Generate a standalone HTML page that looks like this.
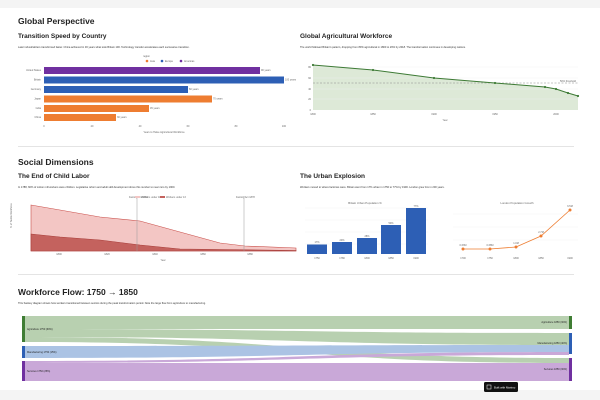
<!DOCTYPE html><html><head><meta charset="utf-8"><style>
body{margin:0;width:600px;height:400px;background:#fff;font-family:"Liberation Sans",sans-serif;overflow:hidden;position:relative;color:#222}
.t{position:absolute;white-space:nowrap}
h1,h2{margin:0;position:absolute;white-space:nowrap;font-weight:bold}
h1{font-size:8.5px}h2{font-size:6.5px}
.d{position:absolute;font-size:2.6px;color:#333;white-space:nowrap}
svg{position:absolute;left:0;top:0}
</style></head><body>
<div style="position:absolute;left:0;top:0;width:600px;height:8px;background:#f4f4f4"></div>
<div style="position:absolute;left:0;top:390px;width:600px;height:10px;background:#f4f4f4"></div>
<h1 style="left:18px;top:16px">Global Perspective</h1>
<h2 style="left:18px;top:33px">Transition Speed by Country</h2>
<div class="d" style="left:18px;top:46px">Later industrializers transformed faster. China achieved in 30 years what took Britain 100. Technology transfer accelerates each successive transition.</div>
<h2 style="left:300px;top:33px">Global Agricultural Workforce</h2>
<div class="d" style="left:300px;top:46px">The world followed Britain's pattern, dropping from 80% agricultural in 1800 to 26% by 2018. The transformation continues in developing nations.</div>
<div style="position:absolute;left:18px;top:146px;width:556px;height:1px;background:#e4e4e4"></div>
<h1 style="left:18px;top:157px">Social Dimensions</h1>
<h2 style="left:18px;top:173px">The End of Child Labor</h2>
<div class="d" style="left:18px;top:186px">In 1788, 60% of cotton mill workers were children. Legislative reform and adult skill development drove this number to near zero by 1900.</div>
<h2 style="left:300px;top:173px">The Urban Explosion</h2>
<div class="d" style="left:300px;top:186px">Workers moved to where factories were. Britain went from 17% urban in 1750 to 77% by 1900. London grew 11x in 200 years.</div>
<div style="position:absolute;left:18px;top:274px;width:556px;height:1px;background:#e4e4e4"></div>
<h1 style="left:18px;top:287px">Workforce Flow: 1750 → 1850</h1>
<div class="d" style="left:18px;top:302px">This Sankey diagram shows how workers transitioned between sectors during the peak transformation period. Note the large flow from agriculture to manufacturing.</div>
<svg width="600" height="400" font-family="Liberation Sans" font-size="2.5" fill="#666">
<!-- bar chart -->
<g>
<circle cx="147" cy="61" r="1.3" fill="#ee7d31"/><text x="150" y="62">Asia</text>
<circle cx="162" cy="61" r="1.3" fill="#2d5fb5"/><text x="165" y="62">Europe</text>
<circle cx="181" cy="61" r="1.3" fill="#7030a0"/><text x="184" y="62">Americas</text>
<text x="143" y="57">region</text>
<rect x="44" y="67" width="216" height="7" fill="#7030a0"/>
<rect x="44" y="76.5" width="240" height="7" fill="#2d5fb5"/>
<rect x="44" y="86" width="144" height="7" fill="#2d5fb5"/>
<rect x="44" y="95.5" width="168" height="7" fill="#ee7d31"/>
<rect x="44" y="105" width="105" height="7" fill="#ee7d31"/>
<rect x="44" y="114" width="72" height="7" fill="#ee7d31"/>
<g text-anchor="end"><text x="41" y="71">United States</text><text x="41" y="80.5">Britain</text><text x="41" y="90">Germany</text><text x="41" y="99.5">Japan</text><text x="41" y="109">India</text><text x="41" y="118">China</text></g>
<text x="261" y="71">90 years</text><text x="285" y="80.5">100 years</text><text x="189" y="90">60 years</text><text x="213" y="99.5">70 years</text><text x="150" y="109">45 years</text><text x="117" y="118">30 years</text>
<g text-anchor="middle"><text x="44" y="127">0</text><text x="92" y="127">20</text><text x="140" y="127">40</text><text x="188" y="127">60</text><text x="236" y="127">80</text><text x="284" y="127">100</text><text x="164" y="133">Years to Halve Agricultural Workforce</text></g>
</g>
<!-- ag workforce -->
<g>
<path d="M313,65 L373,70 L434,78 L495,83 L545,87 L556,89 L568,93 L578,96 L578,110 L313,110Z" fill="#dde9d7"/>
<g stroke="#eee" stroke-width="0.4"><line x1="313" y1="67" x2="578" y2="67"/><line x1="313" y1="78" x2="578" y2="78"/><line x1="313" y1="89" x2="578" y2="89"/><line x1="313" y1="99" x2="578" y2="99"/></g>
<line x1="313" y1="83" x2="578" y2="83" stroke="#888" stroke-width="0.5" stroke-dasharray="2,1.5"/>
<polyline points="313,65 373,70 434,78 495,83 545,87 556,89 568,93 578,96" fill="none" stroke="#3d7a35" stroke-width="1"/>
<g fill="#3d7a35"><circle cx="313" cy="65" r="1.1"/><circle cx="373" cy="70" r="1.1"/><circle cx="434" cy="78" r="1.1"/><circle cx="495" cy="83" r="1.1"/><circle cx="545" cy="87" r="1.1"/><circle cx="556" cy="89" r="1.1"/><circle cx="568" cy="93" r="1.1"/><circle cx="578" cy="96" r="1.1"/></g>
<text x="560" y="82">50% threshold</text>
<g text-anchor="middle"><text x="313" y="115">1800</text><text x="373" y="115">1850</text><text x="434" y="115">1900</text><text x="495" y="115">1950</text><text x="556" y="115">2000</text><text x="445" y="121">Year</text></g>
<g text-anchor="end"><text x="311" y="68">80</text><text x="311" y="79">60</text><text x="311" y="90">40</text><text x="311" y="100">20</text><text x="311" y="111">0</text></g>
</g>
<!-- child labor -->
<g>
<path d="M31,205 L60,210 L100,217 L140,221 L180,232 L220,243 L245,246 L296,248 L296,251 L31,251Z" fill="#f3c6c4" stroke="#c94f4a" stroke-width="0.6"/>
<path d="M31,234 L60,237 L100,240 L140,245 L180,249 L296,250.5 L296,251 L31,251Z" fill="#c4625e" stroke="#a83e3a" stroke-width="0.6"/>
<line x1="137" y1="196" x2="137" y2="251" stroke="#999" stroke-width="0.5"/>
<line x1="244" y1="196" x2="244" y2="251" stroke="#999" stroke-width="0.5"/>
<text x="129" y="198">Factory Act 1833</text><text x="236" y="198">Factory Act 1878</text>
<rect x="135" y="196" width="5" height="2" fill="#f3c6c4"/><text x="141" y="198">Workers under 18</text>
<rect x="160" y="196" width="5" height="2" fill="#c4625e"/><text x="166" y="198">Workers under 13</text>
<g text-anchor="middle"><text x="59" y="255">1800</text><text x="107" y="255">1820</text><text x="155" y="255">1840</text><text x="203" y="255">1860</text><text x="250" y="255">1880</text><text x="163" y="261">Year</text></g>
<text x="22" y="218" transform="rotate(-90 22 228)">% of Textile Workforce</text>
</g>
<!-- urban bars -->
<g>
<text x="365" y="204" text-anchor="middle" font-size="2.8">Britain Urban Population %</text>
<g stroke="#eee" stroke-width="0.4"><line x1="305" y1="208" x2="428" y2="208"/><line x1="305" y1="220" x2="428" y2="220"/><line x1="305" y1="232" x2="428" y2="232"/><line x1="305" y1="244" x2="428" y2="244"/></g>
<g fill="#2d5fb5"><rect x="307" y="244.5" width="20" height="9.5"/><rect x="332" y="242" width="20" height="12"/><rect x="357" y="238" width="20" height="16"/><rect x="381" y="225" width="20" height="29"/><rect x="406" y="208" width="20" height="46"/></g>
<g text-anchor="middle"><text x="317" y="243">17%</text><text x="342" y="241">20%</text><text x="367" y="237">28%</text><text x="391" y="224">50%</text><text x="416" y="207">77%</text>
<text x="317" y="259">1750</text><text x="342" y="259">1780</text><text x="367" y="259">1800</text><text x="391" y="259">1850</text><text x="416" y="259">1900</text></g>
<text x="517" y="204" text-anchor="middle" font-size="2.8">London Population Growth</text>
<g stroke="#eee" stroke-width="0.4"><line x1="453" y1="214" x2="578" y2="214"/><line x1="453" y1="227" x2="578" y2="227"/><line x1="453" y1="240" x2="578" y2="240"/></g>
<polyline points="463,249 490,249 516,247 541,236 570,210" fill="none" stroke="#ee7d31" stroke-width="0.8"/>
<g fill="#ee7d31"><circle cx="463" cy="249" r="1.5"/><circle cx="490" cy="249" r="1.5"/><circle cx="516" cy="247" r="1.5"/><circle cx="541" cy="236" r="1.5"/><circle cx="570" cy="210" r="1.5"/></g>
<g text-anchor="middle"><text x="463" y="246">0.63M</text><text x="490" y="246">0.68M</text><text x="516" y="244">1.0M</text><text x="541" y="233">2.7M</text><text x="570" y="207">6.5M</text>
<text x="463" y="259">1700</text><text x="490" y="259">1750</text><text x="516" y="259">1800</text><text x="541" y="259">1850</text><text x="570" y="259">1900</text></g>
</g>
<!-- sankey -->
<g>
<path d="M25,316 L569,316 L569,329 L25,329Z" fill="#b8d0b0"/>
<path d="M25,329 C300,329 300,333 569,333 L569,345 C300,345 300,337 25,337Z" fill="#b8d0b0"/>
<path d="M25,337 C300,337 300,358 569,358 L569,363 C300,363 300,342 25,342Z" fill="#b8d0b0"/>
<path d="M25,346 C300,346 300,345 569,345 L569,352 C300,352 300,358 25,358Z" fill="#abc3e4"/>
<path d="M25,361 C300,361 300,352 569,352 L569,355 C300,355 300,363 25,363Z" fill="#c9a8d8"/>
<path d="M25,363 C300,363 300,363 569,363 L569,381 L25,381Z" fill="#c9a8d8"/>
<rect x="22" y="316" width="3" height="26" fill="#3f7d34"/>
<rect x="22" y="346" width="3" height="12" fill="#2d5fb5"/>
<rect x="22" y="361" width="3" height="20" fill="#7030a0"/>
<rect x="569" y="316" width="3" height="13" fill="#3f7d34"/>
<rect x="569" y="333" width="3" height="21" fill="#2d5fb5"/>
<rect x="569" y="358" width="3" height="23" fill="#7030a0"/>
<g fill="#222"><text x="27" y="330">Agriculture 1750 (60%)</text><text x="27" y="353">Manufacturing 1750 (15%)</text><text x="27" y="372">Services 1750 (25%)</text>
<g text-anchor="end"><text x="567" y="323">Agriculture 1850 (30%)</text><text x="567" y="344">Manufacturing 1850 (40%)</text><text x="567" y="370">Services 1850 (30%)</text></g></g>
</g>
<rect x="484" y="382" width="34" height="10" rx="1.5" fill="#111"/>
<text x="494" y="388.5" fill="#fff" font-size="2.8">Built with Marimo</text>
<rect x="487" y="385" width="4" height="4" fill="none" stroke="#fff" stroke-width="0.5"/>
</svg>
</body></html>
